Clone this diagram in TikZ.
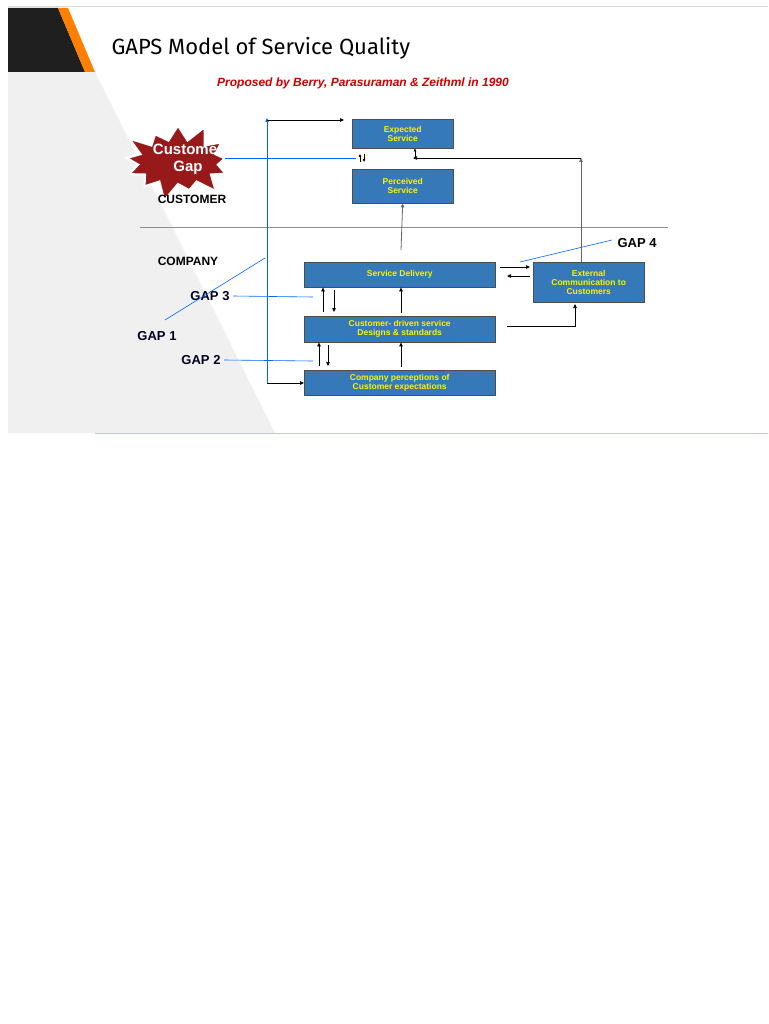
\documentclass[tikz,border=0pt]{standalone}
\usepackage{fontspec}
\setmainfont{Liberation Sans}
\newfontfamily\titlefont{Fira Sans}
\usetikzlibrary{arrows.meta,shapes.symbols}
\begin{document}
\begin{tikzpicture}[x=1pt,y=-1pt,
  box/.style={draw=black!70,fill=boxblue,text=yellow,font=\fontsize{8.5}{9}\selectfont\bfseries,align=center,inner sep=0pt,anchor=north west},
  arr/.style={-{Triangle[length=4pt,width=3.5pt]},line width=0.7pt},
  gline/.style={draw=black!45,line width=0.8pt},
  bline/.style={draw=blue!60!cyan,line width=0.6pt},
  gap/.style={font=\fontsize{13}{13}\selectfont\bfseries,text=black!80!blue!60!black},
  lab/.style={font=\fontsize{12}{12}\selectfont\bfseries,text=black}]
\definecolor{boxblue}{RGB}{54,121,184}
\useasboundingbox (0,0) rectangle (768,1024);
\fill[white] (0,0) rectangle (768,1024);
\draw[black!15] (8,6) -- (768,6);
% background grey wedge
\fill[black!6] (8,72) -- (95,72) -- (275,433) -- (8,433) -- cycle;
\fill[black!88] (8,8) -- (58,8) -- (85,72) -- (8,72) -- cycle;
\fill[orange] (58,8) -- (68,8) -- (95,72) -- (85,72) -- cycle;
\draw[orange!50,line width=1pt] (95,433) -- (768,433);
% title
\node[anchor=west,font=\titlefont\fontsize{22}{22}\selectfont] (title) at (108,48) {GAPS Model of Service Quality};
\node[font=\fontsize{12}{12}\selectfont\bfseries\itshape,text=red!80!black] (sub) at (363,83) {Proposed by Berry, Parasuraman \& Zeithml in 1990};
% separator
\draw[gline] (140,227) -- (668,227);
% boxes
\node[box,minimum width=101pt,minimum height=29pt] (exp) at (352,119) {Expected\\Service};
\node[box,minimum width=101pt,minimum height=34pt] (per) at (352,169) {Perceived\\Service};
\node[box,minimum width=191pt,minimum height=25pt] (sd) at (304,262) {Service Delivery};
\node[box,minimum width=191pt,minimum height=26pt] (cd) at (304,316) {Customer- driven service\\Designs \& standards};
\node[box,minimum width=191pt,minimum height=25pt] (cp) at (304,370) {Company perceptions of\\Customer expectations};
\node[box,minimum width=111pt,minimum height=40pt] (ext) at (533,262) {External\\Communication to\\Customers};
% starburst
\node[starburst,starburst points=13,starburst point height=20pt,fill=red!55!black!90,draw=white,line width=2pt,
  minimum width=120pt,minimum height=84pt] (star) at (178,162) {};
\node[font=\fontsize{15}{17}\selectfont\bfseries,text=white,align=center] (cg) at (188,159) {Customer\\Gap};
% labels
\node[lab] (cust) at (192,199) {CUSTOMER};
\node[lab] (comp) at (188,261) {COMPANY};
\node[gap] (g1) at (157,336) {GAP 1};
\node[gap] (g2) at (201,360) {GAP 2};
\node[gap] (g3) at (210,296) {GAP 3};
\node[gap,text=black] (g4) at (637,243) {GAP 4};
% blue gap line system
\coordinate (b1) at (267,383);
\coordinate (b2) at (267,118);
\draw[bline,-{Triangle[length=4pt,width=3.5pt]}] (b1) -- (b2);
\coordinate (t1) at (267,120);
\draw[arr] (t1) -- (344,120);
\draw[arr] (b1) -- (cp.west |- b1);
\coordinate (cge) at (225,158);
\draw[bline] (cge) -- (356,158);
\draw[-{Triangle[length=3pt,width=2.5pt]},line width=0.6pt] (360,162) -- (360,154);
\draw[-{Triangle[length=3pt,width=2.5pt]},line width=0.6pt] (364,154) -- (364,162);
\coordinate (g1e) at (265,258);
\draw[bline] (165,320) -- (g1e);
\draw[bline] (g3.east) -- (313,297);
\draw[bline] (g2.east) -- (313,361);
\draw[bline] (612,240) -- (520,262);
% perceived arrows
\draw[gline,draw=black!60,-{Triangle[length=4pt,width=3.5pt]}] (401,250) -- (per.south);
\coordinate (e1) at (581,158);
\draw[gline,draw=black!60,-{Triangle[length=4pt,width=3.5pt]}] (ext.north -| e1) -- (e1);
\draw[arr] (e1) -- (413,158);
\draw[-{Triangle[length=3pt,width=2.5pt]},line width=0.6pt] (415,158) -- (exp.south -| 415,0);
% vertical arrows between boxes
\draw[arr] (cd.north -| 401,0) ++(0,-3) -- (sd.south -| 401,0);
\draw[arr] (cp.north -| 401,0) ++(0,-3) -- (cd.south -| 401,0);
\draw[arr] (323,312) -- (sd.south -| 323,0);
\draw[arr] (334,290) -- (334,312);
\draw[arr] (319,366) -- (cd.south -| 319,0);
\draw[arr] (328,345) -- (328,366);
% sd <-> ext
\draw[arr] (500,267) -- (530,267);
\draw[arr] (530,276) -- (507,276);
\coordinate (c1) at (575,326);
\draw[arr] (507,326) -- (c1) -- (575,304);
\end{tikzpicture}
\end{document}
